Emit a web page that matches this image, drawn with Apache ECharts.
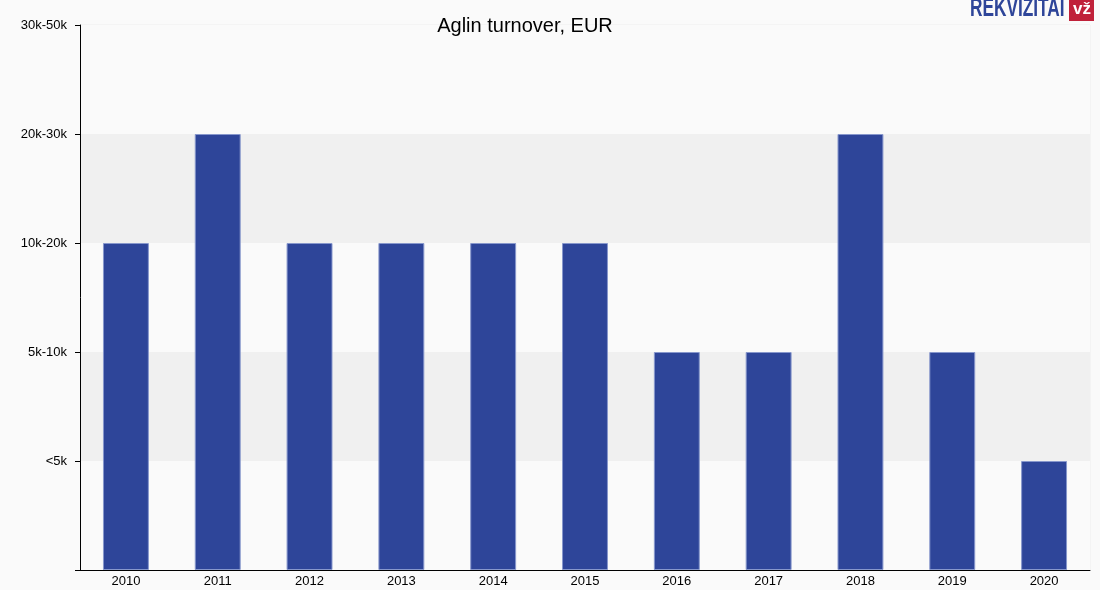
<!DOCTYPE html>
<html><head><meta charset="utf-8">
<script src="https://cdn.jsdelivr.net/npm/echarts@6/dist/echarts.min.js"></script>
<style>html,body{margin:0;padding:0;background:#fafafa}#c{width:1100px;height:590px}</style>
</head><body><div id="c"></div>
<script>
const years = ['2010','2011','2012','2013','2014','2015','2016','2017','2018','2019','2020'];
const levels = [3,4,3,3,3,3,2,2,4,2,1];
const tickLabels = ['', '<5k', '5k-10k', '10k-20k', '20k-30k', '30k-50k'];
const chart = echarts.init(document.getElementById('c'));
chart.setOption({
  backgroundColor:'#fafafa',
  animation:false,
  title:{text:'Aglin turnover, EUR',left:520,top:11,textAlign:'center',
    textStyle:{fontFamily:'Liberation Sans, Arial',fontSize:20,fontWeight:'normal',color:'#000'}},
  grid:{left:80,right:10,top:25,bottom:20},
  xAxis:{type:'category',data:years,
    axisLine:{lineStyle:{color:'#000',width:1}},
    axisTick:{alignWithLabel:true,length:5,lineStyle:{color:'#000'}},
    axisLabel:{color:'#000',fontFamily:'Liberation Sans, Arial',fontSize:13,margin:5}},
  yAxis:{type:'value',min:0,max:5,interval:1,
    axisLine:{show:true,lineStyle:{color:'#000'}},
    axisTick:{show:true,length:5,lineStyle:{color:'#000'}},
    axisLabel:{color:'#000',fontFamily:'Liberation Sans, Arial',fontSize:13,margin:13,
      formatter:v=>tickLabels[v]||''},
    splitLine:{show:false},
    splitArea:{show:true,areaStyle:{color:['#fafafa','#f0f0f0']}}},
  series:[{type:'bar',data:levels,barWidth:'50%',
    itemStyle:{color:'#2e4599',borderColor:'#8797cc',borderWidth:1}}],
  graphic:[
    {type:'line',shape:{x1:80,y1:25,x2:1090,y2:25},style:{stroke:'#eeeeee',lineWidth:1}},
    {type:'line',shape:{x1:1090,y1:25,x2:1090,y2:570},style:{stroke:'#eeeeee',lineWidth:1}},
    {type:'text',x:970,y:-3,scaleX:0.69,style:{text:'REKVIZITAI',fill:'#2e4599',
      font:'bold 25px "Liberation Sans", Arial, sans-serif'}},
    {type:'rect',shape:{x:1069,y:0,width:25,height:21},style:{fill:'#c0213a'}},
    {type:'text',x:1073,y:1,style:{text:'vž',fill:'#fff',font:'bold 17px "Liberation Sans", sans-serif'}}
  ]
});
</script></body></html>
